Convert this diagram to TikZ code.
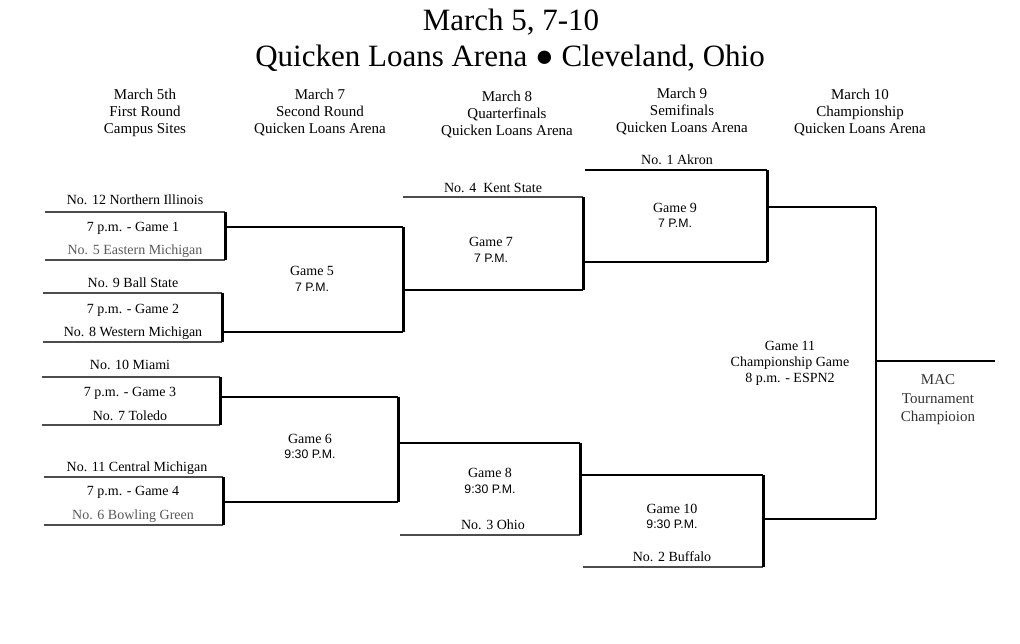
\documentclass[tikz,border=0pt]{standalone}
\usepackage{fontspec}
\setmainfont{Liberation Serif}
\newfontfamily\sansf{Liberation Sans}
\begin{document}
\begin{tikzpicture}[x=1pt,y=-1pt,
  team/.style={draw=black!70,line width=1.2pt},
  conn/.style={draw=black,line width=1.2pt},
  vert/.style={draw=black,line width=3pt},
  champ/.style={draw=black,line width=1.8pt},
  lbl/.style={inner sep=0pt,font=\fontsize{14}{16}\selectfont},
  glbl/.style={lbl,text=black!65},
  tm/.style={inner sep=0pt,font=\sansf\fontsize{12.3}{14}\selectfont},
  hdr/.style={inner sep=0pt,align=center,font=\fontsize{15}{17}\selectfont},
  ttl/.style={inner sep=0pt,font=\fontsize{31}{36}\selectfont}]
\useasboundingbox[fill=white] (0,0) rectangle (1020,643);

% title
\node[ttl] (t1) at (511,22) {March 5, 7-10};
\node[ttl] (t2) at (510,58) {Quicken Loans Arena \char"25CF\ Cleveland, Ohio};

% headers
\node[hdr] (h1) at (145,113) {March 5th\\First Round\\Campus Sites};
\node[hdr] (h2) at (320,113) {March 7\\Second Round\\Quicken Loans Arena};
\node[hdr] (h3) at (507,115) {March 8\\Quarterfinals\\Quicken Loans Arena};
\node[hdr] (h4) at (682,112) {March 9\\Semifinals\\Quicken Loans Arena};
\node[hdr] (h5) at (860,113) {March 10\\Championship\\Quicken Loans Arena};

% coordinates
\coordinate (g1a) at (45,212);  \coordinate (g1b) at (225,212);
\coordinate (g1d) at (45,260);  \coordinate (g1c) at (225,260);
\coordinate (g1o) at (225,227);
\coordinate (g2a) at (43,293);  \coordinate (g2b) at (222,293);
\coordinate (g2d) at (43,342);  \coordinate (g2c) at (222,342);
\coordinate (g2o) at (222,332);
\coordinate (g3a) at (42,377);  \coordinate (g3b) at (220,377);
\coordinate (g3d) at (42,425);  \coordinate (g3c) at (220,425);
\coordinate (g3o) at (220,397);
\coordinate (g4a) at (44,477);  \coordinate (g4b) at (223,477);
\coordinate (g4d) at (44,525);  \coordinate (g4c) at (223,525);
\coordinate (g4o) at (223,502);
\coordinate (g5t) at (403,227); \coordinate (g5b) at (403,332);
\coordinate (g5o) at (403,290);
\coordinate (g6t) at (398,397); \coordinate (g6b) at (398,502);
\coordinate (g6o) at (398,443);
\coordinate (g7a) at (403,197); \coordinate (g7t) at (583,197);
\coordinate (g7b) at (583,290); \coordinate (g7o) at (583,262);
\coordinate (g8t) at (580,443); \coordinate (g8b) at (580,535);
\coordinate (g8d) at (400,535); \coordinate (g8o) at (580,475);
\coordinate (g9a) at (585,170); \coordinate (g9t) at (767,170);
\coordinate (g9b) at (767,262); \coordinate (g9o) at (767,207);
\coordinate (g10t) at (763,475); \coordinate (g10b) at (763,567);
\coordinate (g10d) at (583,567); \coordinate (g10o) at (763,519);
\coordinate (g11t) at (876,207); \coordinate (g11b) at (876,519);
\coordinate (g11o) at (876,361); \coordinate (win) at (995,361);

% first round lines
\foreach \g in {g1,g2,g3,g4}{
  \draw[team] (\g a) -- (\g b);
  \draw[team] (\g d) -- (\g c);
}
\draw[conn] (g1o) -- (g5t);
\draw[conn] (g2o) -- (g5b |- g2o);
\draw[conn] (g3o) -- (g6t);
\draw[conn] (g4o) -- (g6b |- g4o);
\foreach \g in {g1,g2,g3,g4}{
  \draw[vert] (\g b) -- (\g c);
}
% second round
\draw[conn] (g5o) -- (g7b);
\draw[conn] (g6o) -- (g8t);
\draw[vert] (g5t) -- (g5b);
\draw[vert] (g6t) -- (g6b);
% quarterfinals
\draw[team] (g7a) -- (g7t);
\draw[team] (g8d) -- (g8b);
\draw[conn] (g7o) -- (g9b);
\draw[conn] (g8o) -- (g10t);
\draw[vert] (g7t) -- (g7b);
\draw[vert] (g8t) -- (g8b);
% semifinals
\draw[conn] (g9a) -- (g9t);
\draw[team] (g10d) -- (g10b);
\draw[conn] (g9o) -- (g11t);
\draw[conn] (g10o) -- (g11b);
\draw[vert] (g9t) -- (g9b);
\draw[vert] (g10t) -- (g10b);
% championship
\draw[champ] (g11t) -- (g11b);
\draw[conn] (g11o) -- (win);

% first round labels
\node[lbl] (n12) at (135,200) {No. 12 Northern Illinois};
\node[lbl] (m1) at (133,228) {7 p.m. - Game 1};
\node[glbl] (n5) at (135,251) {No. 5 Eastern Michigan};
\node[lbl] (n9) at (133,283) {No. 9 Ball State};
\node[lbl] (m2) at (133,310) {7 p.m. - Game 2};
\node[lbl] (n8) at (133,333) {No. 8 Western Michigan};
\node[lbl] (n10) at (130,365) {No. 10 Miami};
\node[lbl] (m3) at (130,393) {7 p.m. - Game 3};
\node[lbl] (n7) at (130,416) {No. 7 Toledo};
\node[lbl] (n11) at (137,468) {No. 11 Central Michigan};
\node[lbl] (m4) at (133,492) {7 p.m. - Game 4};
\node[glbl] (n6) at (133,516) {No. 6 Bowling Green};

% game labels
\node[lbl] (g5l) at (312,271) {Game 5};
\node[tm] (g5m) at (312,287) {7 P.M.};
\node[lbl] (g6l) at (310,439) {Game 6};
\node[tm] (g6m) at (310,454) {9:30 P.M.};
\node[lbl] (n4) at (493,188) {No. 4\ \ Kent State};
\node[lbl] (g7l) at (491,242) {Game 7};
\node[tm] (g7m) at (491,258) {7 P.M.};
\node[lbl] (g8l) at (490,473) {Game 8};
\node[tm] (g8m) at (490,489) {9:30 P.M.};
\node[lbl] (n3) at (493,525) {No. 3 Ohio};
\node[lbl] (n1) at (677,160) {No. 1 Akron};
\node[lbl] (g9l) at (675,208) {Game 9};
\node[tm] (g9m) at (675,223) {7 P.M.};
\node[lbl] (g10l) at (672,509) {Game 10};
\node[tm] (g10m) at (672,524) {9:30 P.M.};
\node[lbl] (n2) at (672,557) {No. 2 Buffalo};
\node[lbl,align=center] (g11l) at (790,363) {Game 11\\Championship Game\\8 p.m. - ESPN2};
\node[inner sep=0pt,align=center,font=\fontsize{15}{18.5}\selectfont,text=black!80] (mac) at (938,400) {MAC\\Tournament\\Champioion};
\end{tikzpicture}
\end{document}
